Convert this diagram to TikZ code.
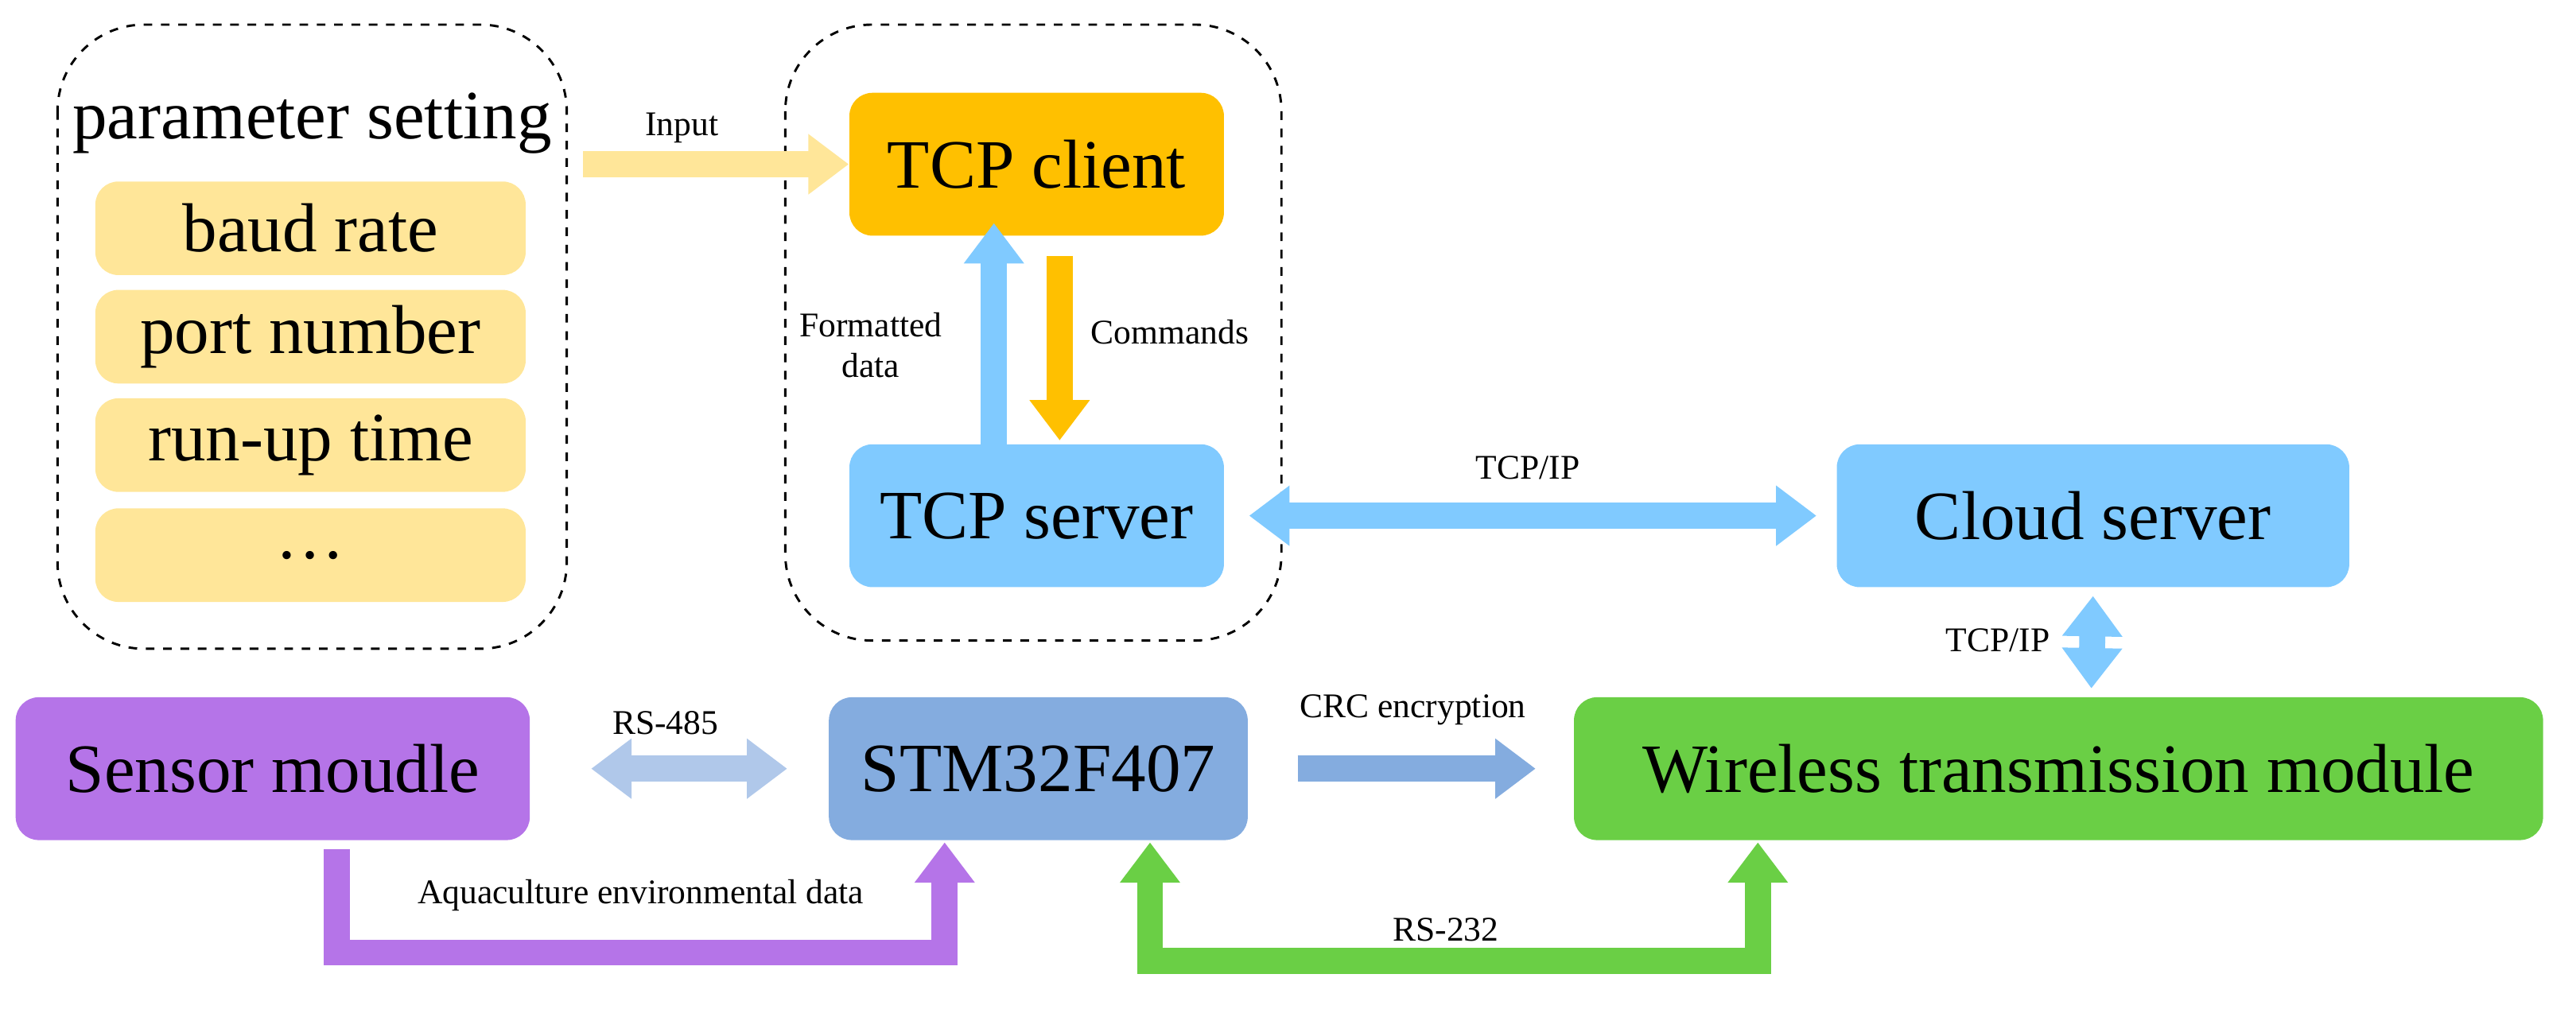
\documentclass[tikz,border=0pt]{standalone}
\usepackage{fontspec}
\setmainfont{Liberation Serif}
\usetikzlibrary{arrows.meta,calc}
\definecolor{cyel}{HTML}{FFE699}
\definecolor{corg}{HTML}{FFC000}
\definecolor{cblu}{HTML}{80CAFF}
\definecolor{cpur}{HTML}{B574E8}
\definecolor{cgrn}{HTML}{6ACF45}
\definecolor{cstm}{HTML}{84ACDF}
\definecolor{clbl}{HTML}{B0C8EA}
\tikzset{
  big/.style={font=\fontsize{24}{28}\selectfont},
  small/.style={font=\fontsize{12}{14}\selectfont},
  box/.style={rounded corners=8pt, inner sep=0pt, big},
  item/.style={box, fill=cyel, minimum width=5.24cm, minimum height=1.14cm},
  mod/.style={box, minimum height=1.74cm},
  frame/.style={dashed, line width=0.8pt, rounded corners=30pt},
  fat/.style={line width=9pt, -{Triangle[width=20pt,length=14pt]}},
  fatb/.style={line width=9pt, {Triangle[width=20pt,length=14pt]}-{Triangle[width=20pt,length=14pt]}},
}
\begin{document}
\begin{tikzpicture}[x=0.02cm,y=-0.02cm]
\useasboundingbox (0,0) rectangle (1568,614);
% dashed frames
\draw[frame] (35,15) rectangle (345,395);
\draw[frame] (478,15) rectangle (780,390);
\node[big] (ps) at (190,75) {parameter setting};
\node[item] (i1) at (189,139) {baud rate};
\node[item] (i2) at (189,205) {port number};
\node[item] (i3) at (189,271) {run-up time};
\node[item] (i4) at (189,338) {\dots};
% modules
\node[mod, fill=corg, minimum width=4.56cm] (cli) at (631,100) {TCP client};
\node[mod, fill=cblu, minimum width=4.56cm] (srv) at (631,314) {TCP server};
\node[mod, fill=cblu, minimum width=6.24cm] (cld) at (1274,314) {Cloud server};
\node[mod, fill=cpur, minimum width=6.26cm] (sen) at (166,468) {Sensor moudle};
\node[mod, fill=cstm, minimum width=5.10cm] (stm) at (632,468) {STM32F407};
\node[mod, fill=cgrn, minimum width=11.80cm] (wir) at (1253,468) {Wireless transmission module};
% connectors
\coordinate (inA) at (355,100);
\draw[fat, cyel] (inA) -- (cli.west);
\node[small] (lin) at (415,78) {Input};
\draw[fat, cblu] ($(srv.north)+(-26,7)$) -- ($(cli.south)+(-26,-8)$);
\draw[fat, corg] ($(cli.south)+(14,12)$) -- ($(srv.north)+(14,-2)$);
\node[small, align=center] (lfd) at (530,210) {Formatted\\data};
\node[small] (lcm) at (712,202) {Commands};
\draw[fatb, cblu] ($(srv.east)+(15,0)$) -- ($(cld.west)+(-12,0)$);
\node[small] (lt1) at (930,285) {TCP/IP};
\draw[fatb, cblu] ($(cld.south)+(0,5)$) -- ($(wir.north)+(20,-5)$);
\node[small] (lt2) at (1216,390) {TCP/IP};
\draw[fatb, clbl] ($(sen.east)+(37,0)$) -- ($(stm.west)+(-25,0)$);
\node[small] (l485) at (405,440) {RS-485};
\draw[fat, cstm] ($(stm.east)+(30,0)$) -- ($(wir.west)+(-23,0)$);
\node[small] (lcrc) at (860,432) {CRC encryption};
\draw[cpur, line width=9pt, -{Triangle[width=20pt,length=14pt]}]
  ($(sen.south)+(39,5)$) |- (575,580) -- ($(stm.south)+(-57,1)$);
\node[small] (laq) at (390,545) {Aquaculture environmental data};
\draw[cgrn, line width=9pt, {Triangle[width=20pt,length=14pt]}-{Triangle[width=20pt,length=14pt]}]
  ($(stm.south)+(68,1)$) |- (1070,585) -- ($(wir.south)+(-183,1)$);
\node[small] (l232) at (880,566) {RS-232};
\end{tikzpicture}
\end{document}
